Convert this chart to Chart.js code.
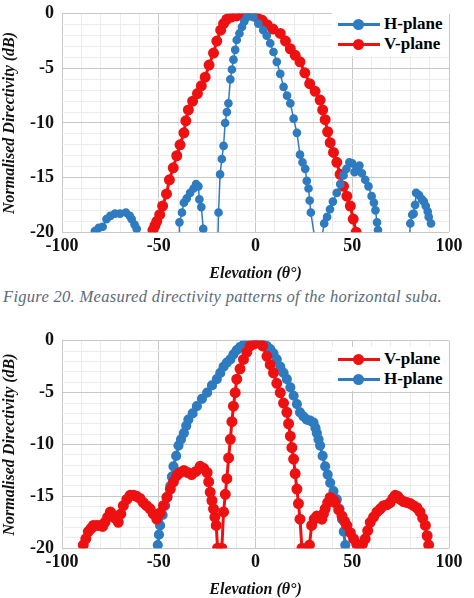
<!DOCTYPE html>
<html><head><meta charset="utf-8">
<script src="https://cdn.jsdelivr.net/npm/chart.js@4"></script>
<style>
body{margin:0;background:#fff;width:474px;height:598px;overflow:hidden;position:relative;font-family:"Liberation Serif",serif}
.box{position:absolute;left:0;width:474px}
.cap{position:absolute;left:3px;top:287px;white-space:nowrap;font-style:italic;font-size:16.5px;color:#5a6a78;letter-spacing:0.3px}
.leg{position:absolute;background:#fff;font-weight:bold;font-size:17px;padding:2px 6px}
.leg div{display:flex;align-items:center;height:20px}
.ln{position:relative;width:42px;height:3px;margin-right:4px}
.ln i{position:absolute;left:15px;top:-4px;width:11px;height:11px;border-radius:50%;background:inherit}
.pre{position:absolute;left:-999px;font:bold 18px "Liberation Serif"}
</style></head><body>
<span class="pre">0</span><span class="pre" style="font-style:italic">x</span>
<div class="box" style="top:-5px;height:292px"><canvas id="c1"></canvas></div>
<div class="cap">Figure 20. Measured directivity patterns of the horizontal suba.</div>
<div class="box" style="top:322px;height:281px"><canvas id="c2"></canvas></div>
<div class="leg" style="left:332px;top:12px">
 <div><span class="ln" style="background:#2f7bc0"><i></i></span>H-plane</div>
 <div><span class="ln" style="background:#ee1111"><i></i></span>V-plane</div>
</div>
<div class="leg" style="left:332px;top:347px">
 <div><span class="ln" style="background:#ee1111"><i></i></span>V-plane</div>
 <div><span class="ln" style="background:#2f7bc0"><i></i></span>H-plane</div>
</div>
<script>
// Top chart: H-plane (gaps = null where the pattern drops off the axis)
const topHAngle = [-83,-81,-79,-77,-75,-72.6,-70,-67,-65,-64,-62.5,-61.4,-50,
  -39.5,-39.3,-38,-37,-35.5,-33.8,-32,-30.7,-29.5,-29,-28,-27,-26,-22,
  -19.5,-19.1,-18.3,-17.4,-16.5,-15.7,-14.8,-14,-13,-12.2,-11.4,-10.5,-9.7,-8.3,-7,-5.8,-4.5,-2.8,-1,1.5,4,5.8,7.6,9.3,11,12.8,14.5,16.3,18,19.7,21.4,23,24.3,25.7,26.5,27.4,28,28.6,31,
  33,33.8,35.5,37,38.5,40,42,43.8,45.5,47,48.5,50,51.2,52.4,53.7,55,56.7,58.4,60,61.2,62,62.8,63.3,63.8,70,
  79.5,80,81,81.7,82.5,83,84.5,86,87,88,89,89.5,90.7];
const topHValue = [-19.9,-19.6,-19.5,-18.8,-18.5,-18.3,-18.3,-18.2,-18.5,-18.8,-19.3,-19.7,null,
  -21,-19.1,-18.2,-17.3,-16.9,-16.4,-16,-15.6,-15.8,-17,-17.7,-19.7,-21,null,
  -21,-18.2,-14.7,-13.3,-12.1,-10,-9,-8.2,-6,-5.1,-4.2,-3.3,-2.4,-1.8,-1.2,-0.7,-0.3,-0.2,-0.3,-0.9,-1.5,-2,-2.7,-3.5,-4.4,-5.5,-6.7,-7.5,-8.2,-9.6,-10.9,-12.9,-13.6,-14.2,-15.3,-16,-17.1,-18.2,-21,null,
  -21,-19.2,-18.6,-17.9,-17.2,-16.4,-15.6,-14.8,-14.2,-13.6,-13.7,-14.5,-14.1,-13.9,-14.6,-15.2,-15.8,-16.7,-17.3,-18,-19.1,-19.8,-21,null,
  -21,-19.2,-18.4,-18.3,-17.5,-16.4,-16.6,-17,-17.2,-17.6,-18.1,-18.6,-19.2];
// Top chart: V-plane
const topVAngle = [-53,-52,-51,-49.5,-48,-46,-44.5,-42.5,-40.7,-39,-37,-36,-34.7,-32.5,-30,-28,-26,-24,-21.7,-20,-18,-16.5,-14.8,-12.5,-9.7,-7,-4.8,-2,0.7,3.5,6,9,12.8,15.5,18,20.5,23,25.5,28,30.8,33.4,34.7,36,37.3,38.6,40.3,42,43.7,45.5,47.2,49,50.5,52,53];
const topVValue = [-19.8,-19.4,-19,-18.4,-17.6,-16.5,-15.2,-14.1,-13,-12,-10.9,-9.8,-8.8,-8,-7.3,-6.6,-5.8,-4.7,-3.6,-2.5,-1.5,-0.9,-0.5,-0.3,-0.2,-0.1,0,-0.1,-0.3,-0.6,-1,-1.4,-1.8,-2.5,-3.2,-3.8,-4.4,-5.4,-6.4,-7.1,-7.9,-8.8,-9.7,-10.8,-11.8,-12.7,-13.6,-14.7,-15.8,-16.7,-17.6,-18.8,-20,-21];

// Bottom chart: V-plane
const botVAngle = [-89,-87.7,-86.4,-85,-83.8,-82,-80.3,-79,-77.8,-76.4,-75,-73.8,-72.6,-70.9,-69.6,-68.3,-66.5,-64.8,-63,-61.4,-59.7,-58,-56.3,-54.5,-52.8,-51,-49.3,-47.6,-45.8,-44,-42.4,-40.7,-39,-37,-35,-33,-30.8,-28.6,-26.8,-25,-24.2,-23.4,-22.5,-21.7,-21,-20.3,-19.6,-19,
  -17.4,-16.5,-15.6,-14.8,-13.9,-13,-12.2,-11.4,-10.5,-9.7,-8,-6.2,-4.5,-2.8,-0.7,1.5,3.7,5.9,7.6,9.3,11,12.8,14.5,16.2,17.1,18,18.8,19.7,20.5,21.4,22.2,23,24,24.5,
  27.2,27.9,29,30.3,31.7,33,34.3,35.1,36,37.3,38.6,40,41.2,43,44.7,46,47.2,49,50.7,52.3,54,55.3,56.7,58,59.3,61,62.8,64.5,66.2,68,69.6,71,72.2,73.5,74.8,76.5,78.3,80,81.7,83.4,85,86.4,87.8,88.7,89.5];
const botVValue = [-19.7,-19.1,-18.4,-18.1,-17.8,-17.8,-17.8,-17.9,-17.5,-17,-16.5,-16.8,-17.1,-17.5,-16.7,-15.9,-15.3,-14.9,-14.9,-15,-15.2,-15.6,-15.9,-16.2,-16.7,-17.2,-16.6,-15.9,-15.1,-14.3,-13.6,-13,-12.7,-12.5,-12.7,-12.9,-12.6,-12.1,-12.3,-12.7,-13.6,-14.6,-15.4,-16.2,-17,-17.8,-20,-21,
  -20,-16.5,-14.8,-13.3,-11.3,-9.5,-7.8,-6.3,-5,-3.7,-2.7,-1.8,-1.1,-0.5,-0.3,-0.2,-0.5,-1.5,-2.3,-3.1,-4.1,-5,-6,-6.9,-8,-9.2,-10.3,-11.4,-12.8,-14.3,-15.7,-17.2,-20,-21,
  -21,-19.7,-17.8,-17.2,-16.9,-17,-17.2,-16.7,-16.2,-15.6,-15.1,-15.3,-15.6,-16.3,-16.9,-17.4,-17.8,-18.5,-19.1,-19.6,-19.9,-19.6,-19.1,-18.3,-17.5,-17,-16.5,-16.2,-15.9,-15.8,-15.6,-15.2,-14.9,-15,-15.3,-15.5,-15.6,-15.7,-15.9,-16.1,-16.5,-17.1,-17.8,-18.8,-19.7];
// Bottom chart: H-plane
const botHAngle = [-50.5,-49.9,-49.3,-48,-46.7,-45.4,-44,-43.2,-42.4,-41,-39.8,-38.5,-37,-35.8,-34.7,-32.5,-30.3,-27.7,-25,-22.5,-20,-18.2,-16.5,-14.8,-13,-11.4,-9.7,-8,-6.2,-4.5,-2.8,-0.2,2.4,4.2,5.9,7.6,9.3,11,12.8,14.5,16.2,18,19.7,21.4,23,24.8,26.5,28.2,30,31,31.7,32.6,33.4,34.7,36,37.3,38.6,40.3,42,43.4,44.7,45.6,46.4];
const botHValue = [-19.7,-18.7,-17.8,-16.8,-15.9,-15,-14,-13.1,-12.1,-11.1,-10.1,-9.5,-8.9,-8.2,-7.6,-7,-6.3,-5.6,-5,-4.3,-3.7,-3.1,-2.5,-2.1,-1.8,-1.3,-0.9,-0.6,-0.4,-0.4,-0.4,-0.2,-0.1,-0.3,-0.5,-0.8,-1.2,-1.8,-2.5,-3.1,-3.7,-4.5,-5.3,-6.1,-6.9,-7.3,-7.6,-7.7,-7.9,-8.4,-8.9,-9.5,-10.1,-11.1,-12.1,-12.9,-13.7,-14.5,-15.3,-16.2,-17.2,-18.4,-19.7];

const xTicks = [-100,-50,0,50,100];
const yTicks = [0,-5,-10,-15,-20];
const BLUE = '#2f7bc0', RED = '#ee1111';

function pts(a, v) { return a.map((x, i) => ({ x: x, y: v[i] })); }

function ds(a, v, color, r, w) {
  return { data: pts(a, v), borderColor: color, backgroundColor: color, pointRadius: r,
    pointHoverRadius: r, borderWidth: w, tension: 0, spanGaps: false };
}

Chart.defaults.font.family = 'Liberation Serif';

function makeChart(id, datasets, h) {
  const cv = document.getElementById(id);
  cv.width = 474; cv.height = h;
  cv.style.width = '474px'; cv.style.height = h + 'px';
  const font = { family: 'Liberation Serif', size: 18, weight: 'bold' };
  const title = { family: 'Liberation Serif', size: 16, weight: 'bold', style: 'italic' };
  return new Chart(cv, {
    type: 'line',
    data: { datasets: datasets },
    options: {
      responsive: false, animation: false,
      layout: { padding: { top: 0, right: 25, left: 0 } },
      plugins: { legend: { display: false }, tooltip: { enabled: false } },
      scales: {
        x: { type: 'linear', min: -100, max: 100,
          ticks: { stepSize: 10, color: '#111', font: font, maxRotation: 0, autoSkip: false,
            callback: v => xTicks.includes(v) ? v : '' },
          grid: { color: c => c.tick.value % 50 === 0 ? '#c8c8c8' : '#ececec', drawTicks: false },
          border: { display: false },
          title: { display: true, text: 'Elevation (θ°)', font: title, color: '#111', padding: { top: 4 } } },
        y: { min: -20, max: 0,
          afterFit: s => { s.width = 62; },
          ticks: { stepSize: 1, color: '#111', font: font, autoSkip: false, padding: 8,
            callback: v => yTicks.includes(v) ? v : '' },
          grid: { color: c => c.tick.value % 5 === 0 ? '#c8c8c8' : '#ececec', drawTicks: false },
          border: { display: false },
          title: { display: true, text: 'Normalised Directivity (dB)', font: title, color: '#111', padding: 0 } }
      }
    }
  });
}

function drawAll() {
  makeChart('c1', [ds(topHAngle, topHValue, BLUE, 3.6, 1.5), ds(topVAngle, topVValue, RED, 4, 3)], 292);
  makeChart('c2', [ds(botVAngle, botVValue, RED, 4, 3), ds(botHAngle, botHValue, BLUE, 3.6, 3)], 281);
}
Promise.all([
  document.fonts.load('bold 18px "Liberation Serif"'),
  document.fonts.load('italic bold 16px "Liberation Serif"')
]).then(drawAll, drawAll);
</script>
</body></html>
